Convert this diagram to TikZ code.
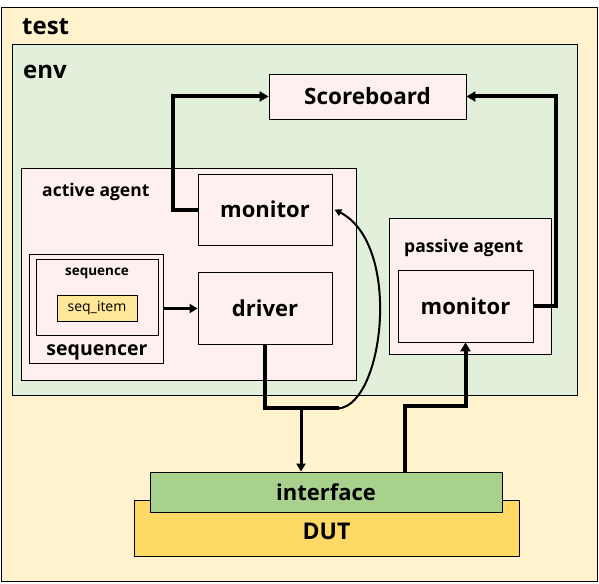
\documentclass[tikz,border=0pt]{standalone}
\usepackage{fontspec}
\setmainfont{Open Sans}
\usetikzlibrary{arrows.meta}
\definecolor{testc}{HTML}{FFF2CC}
\definecolor{envc}{HTML}{E2EFDA}
\definecolor{pinkc}{HTML}{FFF0F0}
\definecolor{itemc}{HTML}{FFE699}
\definecolor{ifc}{HTML}{A9D18E}
\definecolor{dutc}{HTML}{FFD966}
\tikzset{
  blk/.style={draw, line width=0.8pt, inner sep=0pt, fill=pinkc},
  lbl/.style={inner sep=0pt, font=\bfseries},
  fs/.style={font=\bfseries\fontsize{#1}{#1}\selectfont},
  thick arrow/.style={line width=4pt, -{Triangle[length=9pt,width=10pt]}},
  thickline/.style={line width=4pt},
  mid arrow/.style={line width=3pt, -{Triangle[length=8pt,width=9pt]}},
  thin arrow/.style={line width=2pt, -{Triangle[length=7pt,width=7pt]}}
}
\begin{document}
\begin{tikzpicture}[x=1pt,y=-1pt]
\useasboundingbox (0,0) rectangle (599,583);
\fill[white] (0,0) rectangle (599,583);
% containers
\node[blk, fill=testc, minimum width=596pt, minimum height=574pt] (test) at (299,294) {};
\node[lbl, fs=24, anchor=base west] (testlbl) at (22,35) {test};
\node[blk, fill=envc, minimum width=565pt, minimum height=351pt] (env) at (294.5,219.5) {};
\node[lbl, fs=24, anchor=base west] (envlbl) at (23,79) {env};
\node[blk, minimum width=197pt, minimum height=45pt, fs=22.5] (sb) at (367.5,96.5) {Scoreboard};
% active agent
\node[blk, minimum width=335pt, minimum height=212pt] (aa) at (188.5,274) {};
\node[lbl, fs=17.5, anchor=base west] (aalbl) at (42,196) {active agent};
\node[blk, minimum width=134pt, minimum height=71pt, fs=22] (monA) at (265,209.5) {monitor};
\node[blk, minimum width=134pt, minimum height=72pt, fs=22] (drv) at (265,308) {driver};
\node[blk, minimum width=134pt, minimum height=109pt] (seqr) at (96,308.5) {};
\node[lbl, fs=19.5, anchor=base] (seqrlbl) at (97,355) {sequencer};
\node[blk, minimum width=122pt, minimum height=76pt] (seq) at (97,297) {};
\node[lbl, fs=13.5, anchor=base] (seqlbl) at (97,275) {sequence};
\node[blk, fill=itemc, minimum width=80pt, minimum height=26pt, font=\fontsize{14}{14}\selectfont] (item) at (97,308) {seq\_item};
% passive agent
\node[blk, minimum width=162pt, minimum height=136pt] (pa) at (470,286) {};
\node[lbl, fs=17.5, anchor=base west] (palbl) at (404,252) {passive agent};
\node[blk, minimum width=135pt, minimum height=72pt, fs=22] (monP) at (465.5,306) {monitor};
% DUT and interface
\node[blk, fill=dutc, minimum width=385pt, minimum height=56pt,
      label={[lbl, fs=23, yshift=-3pt]center:DUT}] (dut) at (326.5,528) {};
\node[blk, fill=ifc, minimum width=352pt, minimum height=40pt, fs=22] (iface) at (326,492) {interface};
% connectors
\draw[thick arrow] (monA.west) -- ++(-25,0) |- (sb.west);
\draw[thick arrow] (monP.east) -- ++(23,0) |- (sb.east);
\draw[mid arrow] (seqr.east) -- (seqr.east -| drv.west);
\draw[thickline] (drv.south) -- ++(0,64) coordinate (c1) -- ++(74,0) coordinate (c2);
\coordinate (split) at ([xshift=36pt]c1);
\draw[mid arrow] (split) -- (split |- iface.north);
\draw[thin arrow] (c2) .. controls ++(45,-5) and ([shift={(70,35)}]monA.east) .. ([xshift=2pt]monA.east);
\draw[thick arrow] ([xshift=79pt]iface.north) -- ++(0,-66) -| (monP.south);
\end{tikzpicture}
\end{document}
